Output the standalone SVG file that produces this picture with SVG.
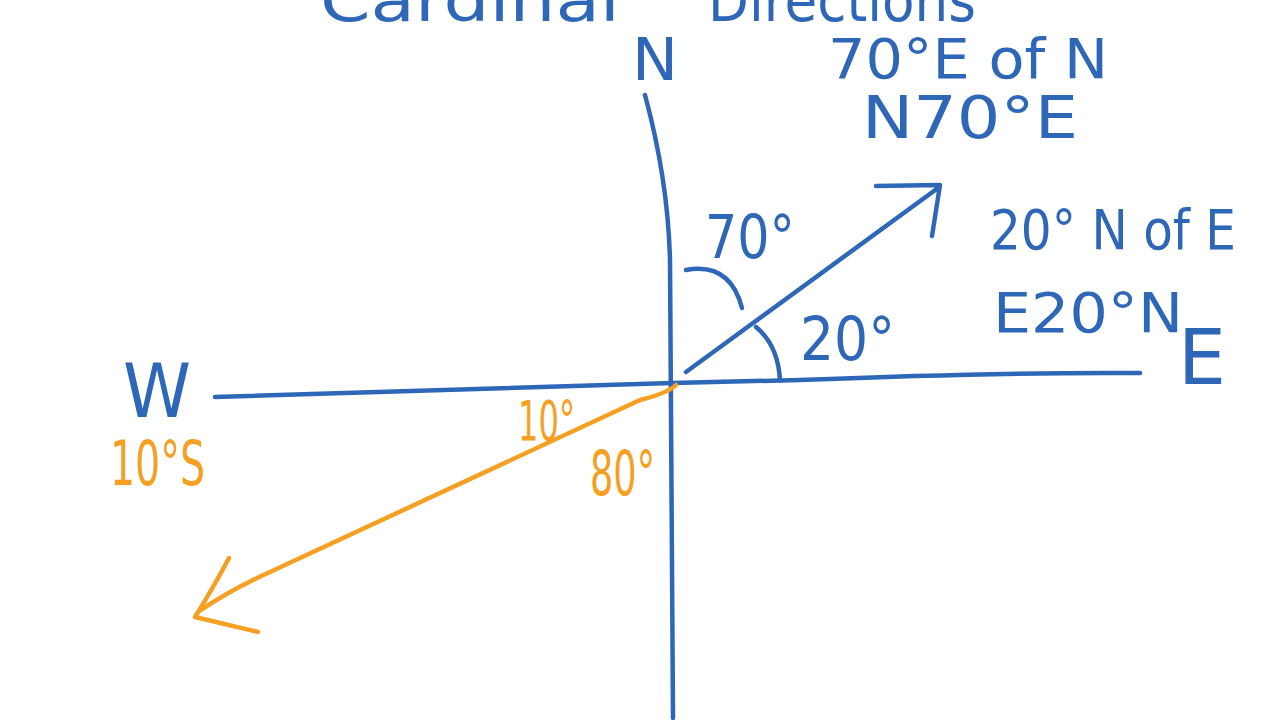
<svg xmlns="http://www.w3.org/2000/svg" width="1280" height="720" viewBox="0 0 1280 720">
  <style>
    .b { fill: none; stroke: #2e66b8; stroke-width: 4.5; stroke-linecap: round; stroke-linejoin: round; }
    .o { fill: none; stroke: #f5a023; stroke-width: 4.5; stroke-linecap: round; stroke-linejoin: round; }
    .tb { fill: #2e66b8; font-family: "DejaVu Sans", "Liberation Sans", sans-serif; font-weight: normal; }
    .to { fill: #f5a023; font-family: "DejaVu Sans", "Liberation Sans", sans-serif; font-weight: normal; }
  </style>
  <rect width="1280" height="720" fill="#ffffff"/>

  <g id="title">
    <text class="tb" x="320" y="21" font-size="58" textLength="300" lengthAdjust="spacingAndGlyphs">Cardinal</text>
    <text class="tb" x="708" y="21" font-size="58" textLength="268" lengthAdjust="spacingAndGlyphs">Directions</text>
  </g>

  <g id="connectors">
    <path id="north-south-axis" class="b" d="M645 95 Q668 180 670 260 L673 718"/>
    <path id="west-east-axis" class="b" d="M215 397 L672 383 L800 380 Q1000 372 1140 373"/>
    <path id="ne-vector" class="b" d="M686 372 L938 188 M876 186 L940 185 L932 236"/>
    <path id="arc-70" class="b" d="M686 270 Q730 262 742 308"/>
    <path id="arc-20" class="b" d="M756 327 Q778 345 780 380"/>
    <path id="sw-vector" class="o" d="M676 385 Q668 393 640 400 L270 572 Q230 590 198 612 M229 558 Q212 590 195 617 L258 632"/>
  </g>

  <g id="label-N"><text class="tb" x="632" y="80" font-size="58" textLength="46" lengthAdjust="spacingAndGlyphs">N</text></g>
  <g id="label-W"><text class="tb" x="123" y="417" font-size="75" textLength="68" lengthAdjust="spacingAndGlyphs">W</text></g>
  <g id="label-E"><text class="tb" x="1178" y="384" font-size="76" textLength="48" lengthAdjust="spacingAndGlyphs">E</text></g>
  <g id="label-70EofN"><text class="tb" x="828" y="78" font-size="55" textLength="280" lengthAdjust="spacingAndGlyphs">70°E of N</text></g>
  <g id="label-N70E"><text class="tb" x="862" y="138" font-size="58" textLength="216" lengthAdjust="spacingAndGlyphs">N70°E</text></g>
  <g id="label-20NofE"><text class="tb" x="990" y="249" font-size="56" textLength="246" lengthAdjust="spacingAndGlyphs">20° N of E</text></g>
  <g id="label-E20N"><text class="tb" x="993" y="332" font-size="56" textLength="190" lengthAdjust="spacingAndGlyphs">E20°N</text></g>
  <g id="label-70"><text class="tb" x="705" y="258" font-size="60" textLength="90" lengthAdjust="spacingAndGlyphs">70°</text></g>
  <g id="label-20"><text class="tb" x="800" y="360" font-size="60" textLength="95" lengthAdjust="spacingAndGlyphs">20°</text></g>
  <g id="label-10S"><text class="to" x="110" y="485" font-size="62" textLength="95" lengthAdjust="spacingAndGlyphs">10°S</text></g>
  <g id="label-10"><text class="to" x="518" y="440" font-size="55" textLength="57" lengthAdjust="spacingAndGlyphs">10°</text></g>
  <g id="label-80"><text class="to" x="590" y="495" font-size="62" textLength="65" lengthAdjust="spacingAndGlyphs">80°</text></g>
</svg>
